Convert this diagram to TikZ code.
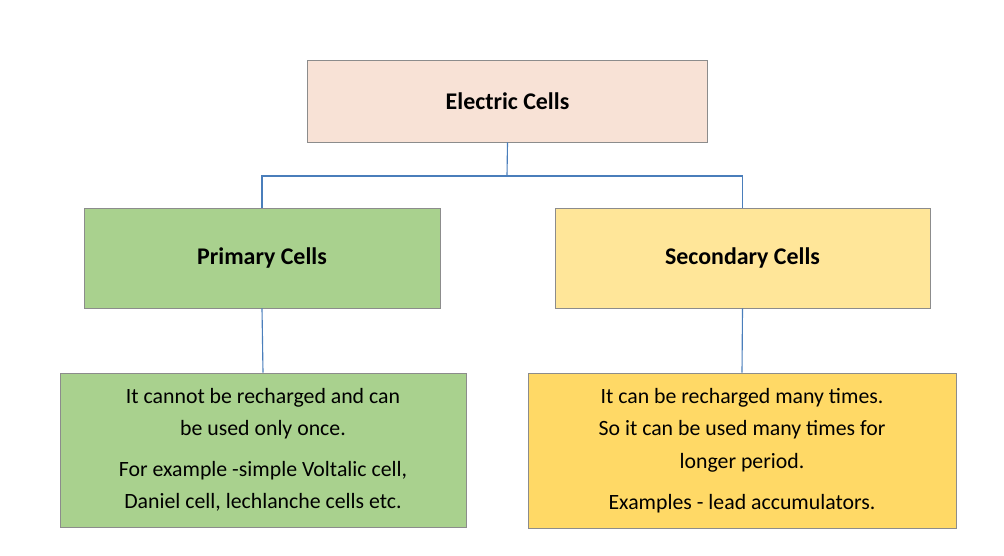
\documentclass[tikz,border=0pt]{standalone}
\usepackage{fontspec}
\setmainfont{Carlito}
\usetikzlibrary{positioning}
\definecolor{peach}{HTML}{F8E2D6}
\definecolor{leaf}{HTML}{A9D18E}
\definecolor{pale}{HTML}{FFE699}
\definecolor{gold}{HTML}{FFD966}
\definecolor{wire}{HTML}{4A7EBB}
\begin{document}
\begin{tikzpicture}[x=0.025cm,y=-0.025cm]
	\tikzstyle{cell}=[draw=black!45, thin, text centered, inner sep=0pt]
	\tikzstyle{header}=[font=\fontsize{17}{20}\selectfont\bfseries]
	\tikzstyle{info}=[font=\fontsize{15.5}{23}\selectfont, align=center]
	\tikzstyle{link}=[draw=wire, thick]

	\useasboundingbox (0,0) rectangle (1004,556);

	\node (ec) [cell, header, fill=peach, minimum width=10cm, minimum height=2.05cm] at (507.5,101) {Electric Cells};
	\node (pc) [cell, header, fill=leaf, minimum width=8.9cm, minimum height=2.5cm] at (262,258) {Primary Cells};
	\node (sc) [cell, header, fill=pale, minimum width=9.375cm, minimum height=2.5cm] at (742.5,258) {Secondary Cells};
	\node (pi) [cell, info, fill=leaf, minimum width=10.15cm, minimum height=3.85cm] at (263,450)
		{It cannot be recharged and can\\be used only once.\\[6pt]For example -simple Voltalic cell,\\Daniel cell, lechlanche cells etc.};
	\node (si) [cell, info, fill=gold, minimum width=10.7cm, minimum height=3.875cm] at (742,450.5)
		{It can be recharged many times.\\So it can be used many times for\\longer period.\\[6pt]Examples - lead accumulators.};

	\coordinate (fork) at (507,176);
	\draw[link] (ec.south) -- (fork);
	\draw[link] (fork) -| (pc.north);
	\draw[link] (fork) -| (sc.north);
	\draw[link] (pc.south) -- (pi.north);
	\draw[link] (sc.south) -- (si.north);
\end{tikzpicture}
\end{document}
